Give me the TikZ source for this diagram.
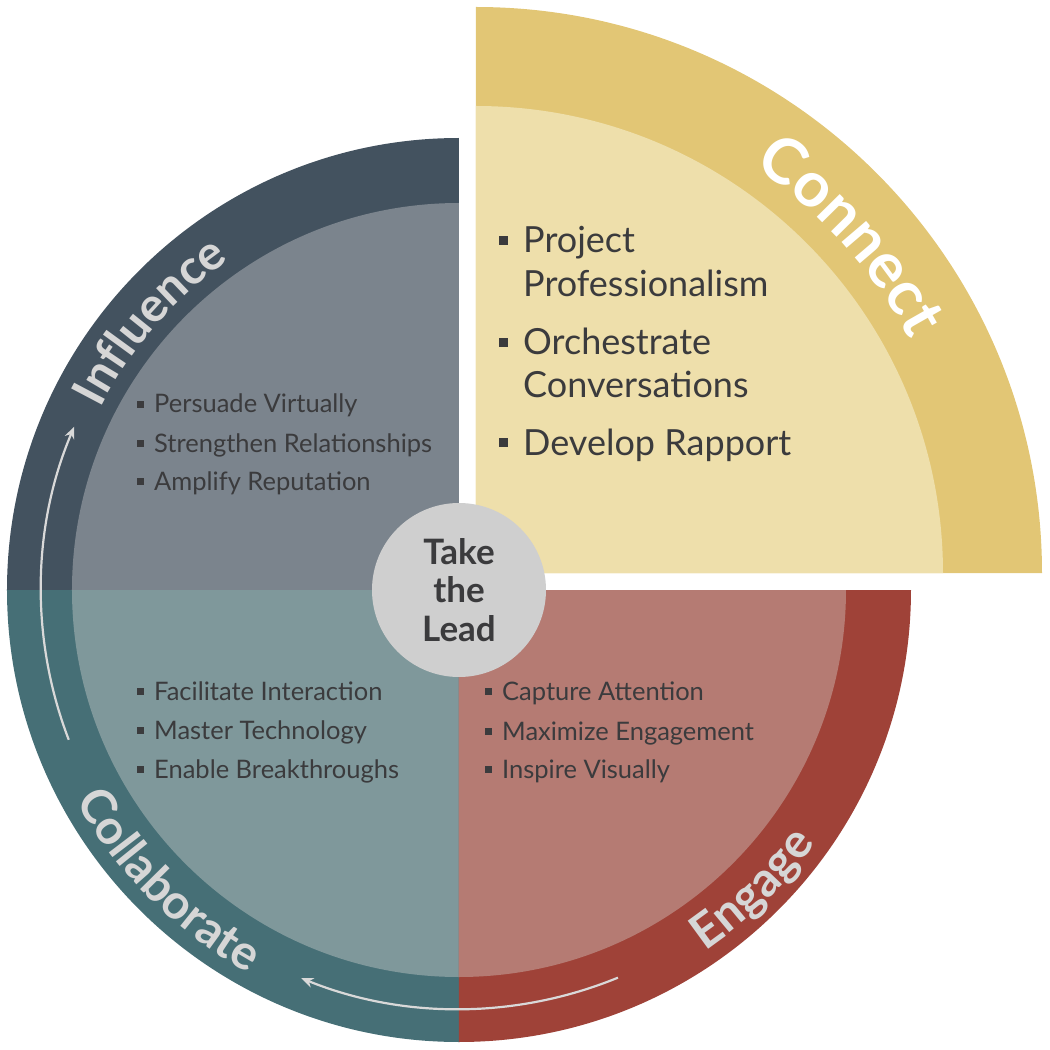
\documentclass[tikz,border=0pt]{standalone}
\usepackage{fontspec}
\setmainfont{Lato}
\usetikzlibrary{arrows.meta, decorations.text}

\definecolor{connOut}{HTML}{E2C675}
\definecolor{connIn}{HTML}{EEDFAB}
\definecolor{inflOut}{HTML}{43525F}
\definecolor{inflIn}{HTML}{7B848D}
\definecolor{collOut}{HTML}{466F76}
\definecolor{collIn}{HTML}{7F989B}
\definecolor{engOut}{HTML}{9F4238}
\definecolor{engIn}{HTML}{B57B73}
\definecolor{hubgray}{HTML}{CFCFCF}
\definecolor{ink}{HTML}{3B3B3D}
\definecolor{titlegray}{HTML}{D6D6D6}
\definecolor{arrowgray}{HTML}{D9D9D9}

\newcommand{\sbul}{\rule[5pt]{7pt}{7pt}\hspace{10pt}}
\newcommand{\bbul}{\rule[8pt]{9pt}{9pt}\hspace{15pt}}
\newcommand{\titlefont}{\fontsize{48}{48}\selectfont\bfseries}
\newcommand{\bigtitlefont}{\fontsize{63}{63}\selectfont\bfseries}

\begin{document}
\begin{tikzpicture}[
        x=1pt, y=1pt,
        item/.style={anchor=base west, inner sep=0pt, text=ink, font=\fontsize{25.5}{25.5}\selectfont},
        bigitem/.style={anchor=base west, inner sep=0pt, text=ink, font=\fontsize{36}{36}\selectfont},
        hub/.style={circle, fill=hubgray, minimum size=174pt, inner sep=0pt, align=center, text=ink, font=\fontsize{35}{38.5}\selectfont\bfseries},
        flow/.style={-{Stealth[length=12pt, width=10pt]}, line width=2.2pt, draw=arrowgray},
        ringtitle/.style n args={2}{decorate, decoration={text along path, text align=center, text color=#1, text={#2}}}
    ]
    \useasboundingbox (-459,-460) rectangle (591,590);

    % Quadrants
    \fill[inflOut] (0,0) -- (180:452) arc[start angle=180, end angle=90, radius=452] -- cycle;
    \fill[inflIn] (0,0) -- (180:387) arc[start angle=180, end angle=90, radius=387] -- cycle;
    \fill[collOut] (0,0) -- (180:452) arc[start angle=180, end angle=270, radius=452] -- cycle;
    \fill[collIn] (0,0) -- (180:387) arc[start angle=180, end angle=270, radius=387] -- cycle;
    \fill[engOut] (0,0) -- (270:452) arc[start angle=270, end angle=360, radius=452] -- cycle;
    \fill[engIn] (0,0) -- (270:387) arc[start angle=270, end angle=360, radius=387] -- cycle;
    \fill[connOut] (17,17) -- ++(566,0) arc[start angle=0, end angle=90, radius=566] -- cycle;
    \fill[connIn] (17,17) -- ++(467,0) arc[start angle=0, end angle=90, radius=467] -- cycle;

    % Ring titles
    \path[ringtitle={titlegray}{|\titlefont|Influence}] (170:402) arc[start angle=170, end angle=108, radius=402];
    \path[ringtitle={titlegray}{|\titlefont|Collaborate}] (195:437) arc[start angle=195, end angle=255, radius=437];
    \path[ringtitle={titlegray}{|\titlefont|Engage}] (294.5:437) arc[start angle=294.5, end angle=334.5, radius=437];
    \path[ringtitle={white}{|\bigtitlefont|Connect}, shift={(17,17)}] (65:493) arc[start angle=65, end angle=19, radius=493];

    % Arrows
    \coordinate (upStart) at (201:418);
    \coordinate (lowStart) at (292.3:419);
    \draw[flow] (upStart) arc[start angle=201, end angle=157, radius=418];
    \draw[flow] (lowStart) arc[start angle=292.3, end angle=247.9, radius=419];

    % Nodes
    \node[hub] (lead) at (0,0) {Take\\the\\Lead};

    \node[bigitem] (project) at (40,337) {\bbul Project};
    \node[bigitem] (profess) at (64,293) {Professionalism};
    \node[bigitem] (orchest) at (40,235) {\bbul Orchestrate};
    \node[bigitem] (convers) at (64,193) {Conversations};
    \node[bigitem] (rapport) at (40,135) {\bbul Develop Rapport};

    \node[item] (persuade) at (-322,177) {\sbul Persuade Virtually};
    \node[item] (strength) at (-322,138) {\sbul Strengthen Relationships};
    \node[item] (amplify) at (-322,100) {\sbul Amplify Reputation};

    \node[item] (facil) at (-322,-110) {\sbul Facilitate Interaction};
    \node[item] (master) at (-322,-149) {\sbul Master Technology};
    \node[item] (enable) at (-322,-188) {\sbul Enable Breakthroughs};

    \node[item] (capture) at (26,-110) {\sbul Capture Attention};
    \node[item] (maxim) at (26,-150) {\sbul Maximize Engagement};
    \node[item] (inspire) at (26,-188) {\sbul Inspire Visually};
\end{tikzpicture}
\end{document}
